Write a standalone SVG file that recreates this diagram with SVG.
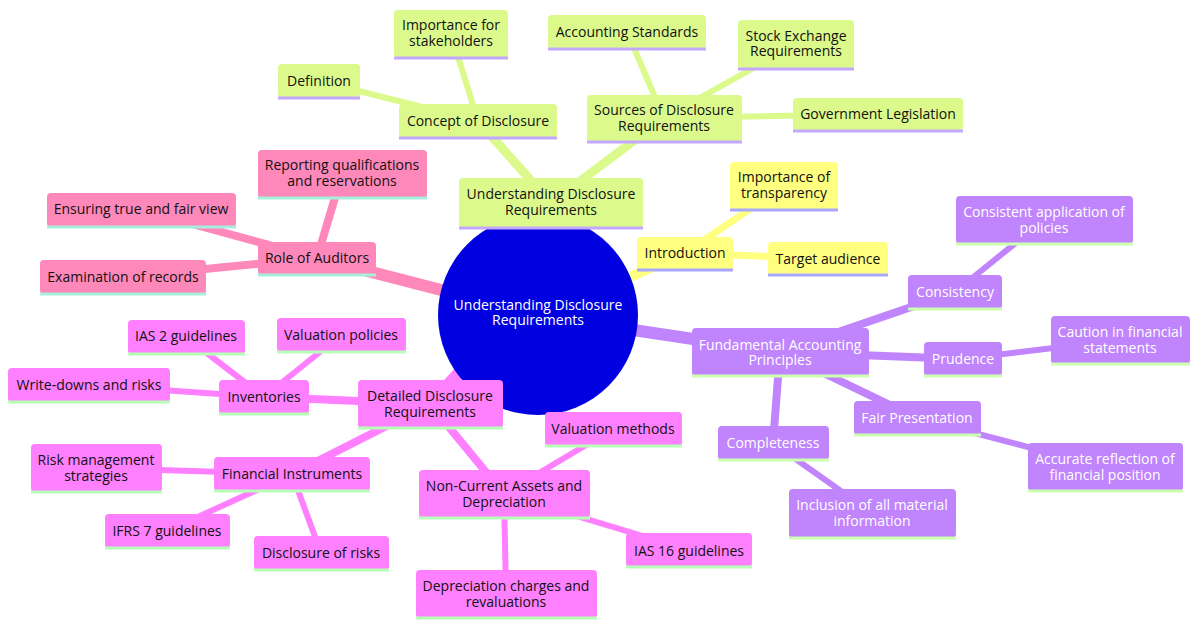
<svg xmlns="http://www.w3.org/2000/svg" width="1200" height="629" viewBox="0 0 1200 629">
<style>
text{font-family:"Open Sans","Liberation Sans",sans-serif;font-size:14px;text-anchor:middle}
.g rect{fill:#dcfa8c;stroke:#c4a8ff;stroke-width:0}
.y rect{fill:#ffff80}
.p rect{fill:#ff88bb}
.m rect{fill:#ff80ff}
.v rect{fill:#c084fc}
.g text,.y text,.p text,.m text{fill:#111}
.v text{fill:#fff}
.u{stroke-width:3}
.g .u{stroke:#c4a8ff}.y .u{stroke:#a8a8ff}.p .u{stroke:#a8eedd}.m .u{stroke:#b8ffb8}.v .u{stroke:#ccffb0}
#edges line{stroke-linecap:round}
.eg{stroke:#dcfa8c}.ey{stroke:#ffff80}.ep{stroke:#ff88bb}.em{stroke:#ff80ff}.ev{stroke:#c084fc}
</style>
<rect width="1200" height="629" fill="#fff"/>
<g id="edges">
<line class="eg" x1="538" y1="260" x2="551" y2="203" stroke-width="12"/>
<line class="eg" x1="551" y1="203" x2="478" y2="121" stroke-width="9"/>
<line class="eg" x1="551" y1="203" x2="664" y2="118" stroke-width="9"/>
<line class="eg" x1="478" y1="121" x2="319" y2="81" stroke-width="6"/>
<line class="eg" x1="478" y1="121" x2="451" y2="34" stroke-width="6"/>
<line class="eg" x1="664" y1="118" x2="627" y2="32" stroke-width="6"/>
<line class="eg" x1="664" y1="118" x2="796" y2="44" stroke-width="6"/>
<line class="eg" x1="664" y1="118" x2="878" y2="114" stroke-width="6"/>
<line class="ey" x1="600" y1="290" x2="685" y2="253" stroke-width="10"/>
<line class="ey" x1="685" y1="253" x2="784" y2="186" stroke-width="7"/>
<line class="ey" x1="685" y1="253" x2="828" y2="259" stroke-width="7"/>
<line class="ep" x1="480" y1="300" x2="317" y2="258" stroke-width="12"/>
<line class="ep" x1="317" y1="258" x2="342" y2="174" stroke-width="8"/>
<line class="ep" x1="317" y1="258" x2="141" y2="210" stroke-width="8"/>
<line class="ep" x1="317" y1="258" x2="123" y2="277" stroke-width="8"/>
<line class="em" x1="480" y1="350" x2="430" y2="404" stroke-width="12"/>
<line class="em" x1="430" y1="404" x2="264" y2="397" stroke-width="8"/>
<line class="em" x1="430" y1="404" x2="292" y2="474" stroke-width="8"/>
<line class="em" x1="430" y1="404" x2="504" y2="494" stroke-width="8"/>
<line class="em" x1="264" y1="397" x2="186" y2="337" stroke-width="6"/>
<line class="em" x1="264" y1="397" x2="341" y2="335" stroke-width="6"/>
<line class="em" x1="264" y1="397" x2="89" y2="385" stroke-width="6"/>
<line class="em" x1="292" y1="474" x2="96" y2="468" stroke-width="6"/>
<line class="em" x1="292" y1="474" x2="167" y2="531" stroke-width="6"/>
<line class="em" x1="292" y1="474" x2="321" y2="553" stroke-width="6"/>
<line class="em" x1="504" y1="494" x2="613" y2="429" stroke-width="6"/>
<line class="em" x1="504" y1="494" x2="689" y2="550" stroke-width="6"/>
<line class="em" x1="504" y1="494" x2="506" y2="594" stroke-width="6"/>
<line class="ev" x1="600" y1="325" x2="780" y2="352" stroke-width="12"/>
<line class="ev" x1="780" y1="352" x2="955" y2="292" stroke-width="8"/>
<line class="ev" x1="780" y1="352" x2="963" y2="359" stroke-width="8"/>
<line class="ev" x1="780" y1="352" x2="917" y2="418" stroke-width="8"/>
<line class="ev" x1="780" y1="352" x2="773" y2="443" stroke-width="8"/>
<line class="ev" x1="955" y1="292" x2="1044" y2="220" stroke-width="6"/>
<line class="ev" x1="963" y1="359" x2="1120" y2="340" stroke-width="6"/>
<line class="ev" x1="917" y1="418" x2="1105" y2="467" stroke-width="6"/>
<line class="ev" x1="773" y1="443" x2="872" y2="513" stroke-width="6"/>
</g>
<g id="root"><circle cx="538" cy="315" r="100" fill="#0000e0"/><text x="538" y="310" fill="#fff">Understanding Disclosure</text><text x="538" y="325" fill="#fff">Requirements</text></g>
<g id="n-udr" class="g"><rect x="459" y="178" width="184" height="50" rx="4"/><line class="u" x1="459" y1="228" x2="643" y2="228"/><text x="551" y="199">Understanding Disclosure</text><text x="551" y="215">Requirements</text></g>
<g id="n-concept" class="g"><rect x="399" y="104" width="158" height="34" rx="4"/><line class="u" x1="399" y1="138" x2="557" y2="138"/><text x="478" y="126">Concept of Disclosure</text></g>
<g id="n-def" class="g"><rect x="278" y="64" width="82" height="34" rx="4"/><line class="u" x1="278" y1="98" x2="360" y2="98"/><text x="319" y="86">Definition</text></g>
<g id="n-imp" class="g"><rect x="394" y="10" width="114" height="48" rx="4"/><line class="u" x1="394" y1="58" x2="508" y2="58"/><text x="451" y="30">Importance for</text><text x="451" y="46">stakeholders</text></g>
<g id="n-sources" class="g"><rect x="587" y="95" width="155" height="47" rx="4"/><line class="u" x1="587" y1="142" x2="742" y2="142"/><text x="664" y="115">Sources of Disclosure</text><text x="664" y="131">Requirements</text></g>
<g id="n-as" class="g"><rect x="548" y="15" width="158" height="34" rx="4"/><line class="u" x1="548" y1="49" x2="706" y2="49"/><text x="627" y="37">Accounting Standards</text></g>
<g id="n-ser" class="g"><rect x="738" y="20" width="116" height="49" rx="4"/><line class="u" x1="738" y1="69" x2="854" y2="69"/><text x="796" y="41">Stock Exchange</text><text x="796" y="56">Requirements</text></g>
<g id="n-gl" class="g"><rect x="793" y="98" width="170" height="33" rx="4"/><line class="u" x1="793" y1="131" x2="963" y2="131"/><text x="878" y="119">Government Legislation</text></g>
<g id="n-intro" class="y"><rect x="637" y="237" width="96" height="33" rx="4"/><line class="u" x1="637" y1="270" x2="733" y2="270"/><text x="685" y="258">Introduction</text></g>
<g id="n-trans" class="y"><rect x="730" y="162" width="108" height="48" rx="4"/><line class="u" x1="730" y1="210" x2="838" y2="210"/><text x="784" y="182">Importance of</text><text x="784" y="198">transparency</text></g>
<g id="n-target" class="y"><rect x="768" y="242" width="120" height="33" rx="4"/><line class="u" x1="768" y1="275" x2="888" y2="275"/><text x="828" y="264">Target audience</text></g>
<g id="n-aud" class="p"><rect x="258" y="242" width="118" height="33" rx="4"/><line class="u" x1="258" y1="275" x2="376" y2="275"/><text x="317" y="263">Role of Auditors</text></g>
<g id="n-rep" class="p"><rect x="258" y="150" width="169" height="48" rx="4"/><line class="u" x1="258" y1="198" x2="427" y2="198"/><text x="342" y="170">Reporting qualifications</text><text x="342" y="186">and reservations</text></g>
<g id="n-etf" class="p"><rect x="47" y="193" width="189" height="34" rx="4"/><line class="u" x1="47" y1="227" x2="236" y2="227"/><text x="141" y="214">Ensuring true and fair view</text></g>
<g id="n-exam" class="p"><rect x="40" y="260" width="166" height="34" rx="4"/><line class="u" x1="40" y1="294" x2="206" y2="294"/><text x="123" y="282">Examination of records</text></g>
<g id="n-ddr" class="m"><rect x="358" y="380" width="145" height="48" rx="4"/><line class="u" x1="358" y1="428" x2="503" y2="428"/><text x="430" y="401">Detailed Disclosure</text><text x="430" y="417">Requirements</text></g>
<g id="n-inv" class="m"><rect x="219" y="380" width="90" height="34" rx="4"/><line class="u" x1="219" y1="414" x2="309" y2="414"/><text x="264" y="402">Inventories</text></g>
<g id="n-ias2" class="m"><rect x="128" y="320" width="117" height="34" rx="4"/><line class="u" x1="128" y1="354" x2="245" y2="354"/><text x="186" y="341">IAS 2 guidelines</text></g>
<g id="n-vp" class="m"><rect x="277" y="318" width="129" height="34" rx="4"/><line class="u" x1="277" y1="352" x2="406" y2="352"/><text x="341" y="340">Valuation policies</text></g>
<g id="n-wd" class="m"><rect x="8" y="368" width="162" height="34" rx="4"/><line class="u" x1="8" y1="402" x2="170" y2="402"/><text x="89" y="390">Write-downs and risks</text></g>
<g id="n-fi" class="m"><rect x="214" y="457" width="156" height="34" rx="4"/><line class="u" x1="214" y1="491" x2="370" y2="491"/><text x="292" y="479">Financial Instruments</text></g>
<g id="n-rms" class="m"><rect x="31" y="444" width="131" height="48" rx="4"/><line class="u" x1="31" y1="492" x2="162" y2="492"/><text x="96" y="465">Risk management</text><text x="96" y="481">strategies</text></g>
<g id="n-ifrs" class="m"><rect x="105" y="514" width="125" height="34" rx="4"/><line class="u" x1="105" y1="548" x2="230" y2="548"/><text x="167" y="536">IFRS 7 guidelines</text></g>
<g id="n-dor" class="m"><rect x="254" y="536" width="135" height="34" rx="4"/><line class="u" x1="254" y1="570" x2="389" y2="570"/><text x="321" y="558">Disclosure of risks</text></g>
<g id="n-nca" class="m"><rect x="419" y="470" width="171" height="48" rx="4"/><line class="u" x1="419" y1="518" x2="590" y2="518"/><text x="504" y="491">Non-Current Assets and</text><text x="504" y="507">Depreciation</text></g>
<g id="n-vm" class="m"><rect x="545" y="412" width="137" height="34" rx="4"/><line class="u" x1="545" y1="446" x2="682" y2="446"/><text x="613" y="434">Valuation methods</text></g>
<g id="n-ias16" class="m"><rect x="626" y="533" width="126" height="34" rx="4"/><line class="u" x1="626" y1="567" x2="752" y2="567"/><text x="689" y="556">IAS 16 guidelines</text></g>
<g id="n-dcr" class="m"><rect x="416" y="570" width="181" height="48" rx="4"/><line class="u" x1="416" y1="618" x2="597" y2="618"/><text x="506" y="591">Depreciation charges and</text><text x="506" y="607">revaluations</text></g>
<g id="n-fap" class="v"><rect x="692" y="328" width="177" height="48" rx="4"/><line class="u" x1="692" y1="376" x2="869" y2="376"/><text x="780" y="350">Fundamental Accounting</text><text x="780" y="365">Principles</text></g>
<g id="n-cons" class="v"><rect x="908" y="275" width="94" height="34" rx="4"/><line class="u" x1="908" y1="309" x2="1002" y2="309"/><text x="955" y="297">Consistency</text></g>
<g id="n-cap" class="v"><rect x="956" y="196" width="177" height="48" rx="4"/><line class="u" x1="956" y1="244" x2="1133" y2="244"/><text x="1044" y="217">Consistent application of</text><text x="1044" y="233">policies</text></g>
<g id="n-pru" class="v"><rect x="924" y="342" width="78" height="34" rx="4"/><line class="u" x1="924" y1="376" x2="1002" y2="376"/><text x="963" y="364">Prudence</text></g>
<g id="n-cfs" class="v"><rect x="1051" y="316" width="139" height="48" rx="4"/><line class="u" x1="1051" y1="364" x2="1190" y2="364"/><text x="1120" y="337">Caution in financial</text><text x="1120" y="353">statements</text></g>
<g id="n-fp" class="v"><rect x="854" y="401" width="127" height="34" rx="4"/><line class="u" x1="854" y1="435" x2="981" y2="435"/><text x="917" y="423">Fair Presentation</text></g>
<g id="n-arf" class="v"><rect x="1028" y="443" width="155" height="48" rx="4"/><line class="u" x1="1028" y1="491" x2="1183" y2="491"/><text x="1105" y="464">Accurate reflection of</text><text x="1105" y="480">financial position</text></g>
<g id="n-comp" class="v"><rect x="718" y="426" width="111" height="34" rx="4"/><line class="u" x1="718" y1="460" x2="829" y2="460"/><text x="773" y="448">Completeness</text></g>
<g id="n-incl" class="v"><rect x="789" y="489" width="167" height="49" rx="4"/><line class="u" x1="789" y1="538" x2="956" y2="538"/><text x="872" y="510">Inclusion of all material</text><text x="872" y="526">information</text></g>
</svg>
